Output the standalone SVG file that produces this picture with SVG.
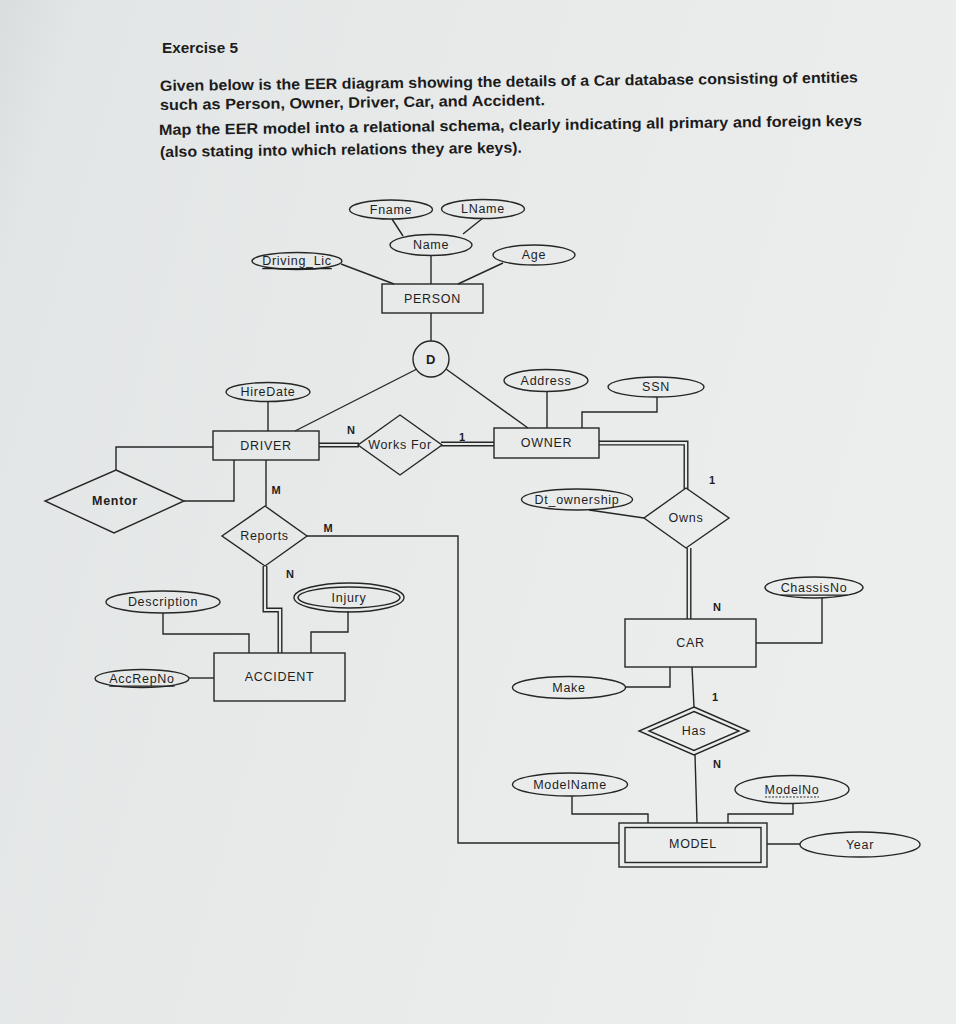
<svg xmlns="http://www.w3.org/2000/svg" width="956" height="1024" viewBox="0 0 956 1024">
<defs>
<linearGradient id="bg" x1="0" y1="0" x2="1" y2="0.3">
<stop offset="0" stop-color="#d9dddd"/>
<stop offset="0.08" stop-color="#e3e6e6"/>
<stop offset="0.6" stop-color="#e9ebeb"/>
<stop offset="1" stop-color="#eceeee"/>
</linearGradient>
<style>
.s{fill:none;stroke:#262626;stroke-width:1.4}
.b{fill:none;stroke:#262626;stroke-width:1.4}
.t{font-family:"Liberation Sans",Arial,sans-serif;font-size:12.5px;letter-spacing:0.7px;fill:#1e1e1e;text-anchor:middle;dominant-baseline:central}
.u{text-decoration:underline}
.c{font-family:"Liberation Sans",Arial,sans-serif;font-size:11px;font-weight:bold;fill:#1e1e1e;text-anchor:middle;dominant-baseline:central}
.h{font-family:"Liberation Sans",Arial,sans-serif;font-size:15px;font-weight:bold;fill:#1c1c1c}
</style>
</defs>
<rect x="0" y="0" width="956" height="1024" fill="url(#bg)"/>

<g id="heading">
<text class="h" x="162" y="53" textLength="76" lengthAdjust="spacingAndGlyphs">Exercise 5</text>
<text class="h" x="160" y="91" textLength="698" lengthAdjust="spacingAndGlyphs" transform="rotate(-0.7 160 91)">Given below is the EER diagram showing the details of a Car database consisting of entities</text>
<text class="h" x="160" y="110" textLength="385" lengthAdjust="spacingAndGlyphs" transform="rotate(-0.7 160 110)">such as Person, Owner, Driver, Car, and Accident.</text>
<text class="h" x="159" y="135" textLength="703" lengthAdjust="spacingAndGlyphs" transform="rotate(-0.75 159 135)">Map the EER model into a relational schema, clearly indicating all primary and foreign keys</text>
<text class="h" x="160" y="157" textLength="362" lengthAdjust="spacingAndGlyphs" transform="rotate(-0.7 160 157)">(also stating into which relations they are keys).</text>
</g>

<g id="connectors">
<line class="s" x1="392" y1="219" x2="403" y2="236"/>
<line class="s" x1="483" y1="218" x2="463" y2="234"/>
<line class="s" x1="431" y1="255" x2="431" y2="284"/>
<line class="s" x1="341" y1="264" x2="394" y2="284"/>
<line class="s" x1="503" y1="263" x2="458" y2="284"/>
<line class="s" x1="431" y1="313" x2="431" y2="341"/>
<line class="s" x1="417" y1="369" x2="295" y2="431"/>
<line class="s" x1="446" y1="369" x2="528" y2="428"/>
<line class="s" x1="268" y1="402" x2="268" y2="431"/>
<line class="s" x1="547" y1="391" x2="547" y2="428"/>
<polyline class="s" points="657,397 657,412 582,412 582,428"/>
<line class="s" x1="319" y1="443.2" x2="359" y2="443.2"/>
<line class="s" x1="319" y1="446.8" x2="359" y2="446.8"/>
<line class="s" x1="441" y1="442.2" x2="494" y2="442.2"/>
<line class="s" x1="441" y1="445.8" x2="494" y2="445.8"/>
<polyline class="s" points="599,441.3 687.8,441.3 687.8,489"/>
<polyline class="s" points="599,444.9 684.2,444.9 684.2,489"/>
<line class="s" x1="589" y1="510" x2="644" y2="518"/>
<line class="s" x1="687.2" y1="548" x2="687.2" y2="619"/>
<line class="s" x1="690.8" y1="548" x2="690.8" y2="619"/>
<polyline class="s" points="822,598 822,643 756,643"/>
<polyline class="s" points="626,687 670,687 670,667"/>
<line class="s" x1="692" y1="667" x2="694" y2="707"/>
<line class="s" x1="695" y1="755" x2="697" y2="823"/>
<polyline class="s" points="572,796 572,814 648,814 648,823"/>
<polyline class="s" points="793,803 793,814 728,814 728,823"/>
<line class="s" x1="767" y1="844" x2="800" y2="844"/>
<polyline class="s" points="307,536 458,536 458,843 619,843"/>
<polyline class="s" points="116,470 116,447 213,447"/>
<polyline class="s" points="184,501 234,501 234,460"/>
<line class="s" x1="266" y1="460" x2="266" y2="506"/>
<polyline class="s" points="263.2,566 263.2,611.8 278.2,611.8 278.2,653"/>
<polyline class="s" points="266.8,566 266.8,608.2 281.8,608.2 281.8,653"/>
<polyline class="s" points="348,611 348,632 311,632 311,653"/>
<polyline class="s" points="163,613 163,634 249,634 249,653"/>
<line class="s" x1="189" y1="678" x2="214" y2="678"/>
</g>

<g id="cardinalities">
<text class="c" x="351" y="430">N</text>
<text class="c" x="462" y="437">1</text>
<text class="c" x="712" y="480">1</text>
<text class="c" x="276" y="490">M</text>
<text class="c" x="328" y="528">M</text>
<text class="c" x="290" y="574">N</text>
<text class="c" x="717" y="607">N</text>
<text class="c" x="715" y="697">1</text>
<text class="c" x="717" y="764">N</text>
</g>

<g id="fname"><ellipse class="b" cx="391" cy="209.5" rx="41.5" ry="9.5"/><text class="t" x="391" y="209.5">Fname</text></g>
<g id="lname"><ellipse class="b" cx="483" cy="209" rx="41.5" ry="9.5"/><text class="t" x="483" y="209">LName</text></g>
<g id="name"><ellipse class="b" cx="431" cy="245" rx="41" ry="10.5"/><text class="t" x="431" y="245">Name</text></g>
<g id="driving_lic"><ellipse class="b" cx="297" cy="261" rx="45" ry="8.5"/><text class="t u" x="297" y="261">Driving_Lic</text></g>
<g id="age"><ellipse class="b" cx="534" cy="255" rx="41" ry="10"/><text class="t" x="534" y="255">Age</text></g>
<g id="person"><rect class="b" x="382" y="284" width="101" height="29"/><text class="t" x="432.5" y="298.5">PERSON</text></g>
<g id="disjoint"><circle class="b" cx="431" cy="359" r="18"/><text class="t" x="431" y="359" style="font-weight:bold;font-size:13px">D</text></g>
<g id="hiredate"><ellipse class="b" cx="268" cy="392" rx="42" ry="9.5"/><text class="t" x="268" y="392">HireDate</text></g>
<g id="address"><ellipse class="b" cx="546" cy="380.5" rx="42" ry="11"/><text class="t" x="546" y="380.5">Address</text></g>
<g id="ssn"><ellipse class="b" cx="656" cy="387" rx="48" ry="10"/><text class="t" x="656" y="387">SSN</text></g>
<g id="driver"><rect class="b" x="213" y="431" width="106" height="29"/><text class="t" x="266" y="445.5">DRIVER</text></g>
<g id="works_for"><polygon class="b" points="400,415 442,445 400,475 358,445"/><text class="t" x="400" y="445">Works For</text></g>
<g id="owner"><rect class="b" x="494" y="428" width="105" height="30"/><text class="t" x="546.5" y="443">OWNER</text></g>
<g id="mentor"><polygon class="b" points="116,470 184,501 114,533 45,501"/><text class="t" x="115" y="501" style="font-weight:bold">Mentor</text></g>
<g id="reports"><polygon class="b" points="265,506 307,536 265,566 222,536"/><text class="t" x="264.5" y="536">Reports</text></g>
<g id="dt_ownership"><ellipse class="b" cx="577" cy="499.5" rx="55.5" ry="10.5"/><text class="t" x="577" y="499.5">Dt_ownership</text></g>
<g id="owns"><polygon class="b" points="686,488 729,518 686,548 644,518"/><text class="t" x="686" y="518">Owns</text></g>
<g id="description"><ellipse class="b" cx="163" cy="602" rx="57" ry="11"/><text class="t" x="163" y="602">Description</text></g>
<g id="injury"><ellipse class="b" cx="349" cy="597.5" rx="55" ry="14.5"/><ellipse class="b" cx="349" cy="597.5" rx="51" ry="10.5"/><text class="t" x="349" y="597.5">Injury</text></g>
<g id="chassisno"><ellipse class="b" cx="814" cy="587.5" rx="49" ry="10.5"/><text class="t u" x="814" y="587.5">ChassisNo</text></g>
<g id="car"><rect class="b" x="625" y="619" width="131" height="48"/><text class="t" x="690.5" y="643">CAR</text></g>
<g id="accrepno"><ellipse class="b" cx="142" cy="678.5" rx="47" ry="9"/><text class="t u" x="142" y="678.5">AccRepNo</text></g>
<g id="accident"><rect class="b" x="214" y="653" width="131" height="48"/><text class="t" x="279.5" y="677">ACCIDENT</text></g>
<g id="make"><ellipse class="b" cx="569" cy="687.5" rx="56.5" ry="11"/><text class="t" x="569" y="687.5">Make</text></g>
<g id="has"><polygon class="b" points="694,707 749,731 694,755 639,731"/><polygon class="b" points="694,711.5 739,731 694,750.5 649,731"/><text class="t" x="694" y="731">Has</text></g>
<g id="modelname"><ellipse class="b" cx="570" cy="784.5" rx="57.5" ry="11.5"/><text class="t" x="570" y="784.5">ModelName</text></g>
<g id="modelno"><ellipse class="b" cx="792" cy="789.5" rx="57" ry="14"/><text class="t" x="792" y="789.5">ModelNo</text><line x1="765" y1="797" x2="819" y2="797" stroke="#262626" stroke-width="1" stroke-dasharray="2,1.5"/></g>
<g id="model"><rect class="b" x="619" y="823" width="148" height="44"/><rect class="b" x="625" y="827.5" width="136" height="35"/><text class="t" x="693" y="844">MODEL</text></g>
<g id="year"><ellipse class="b" cx="860" cy="844.5" rx="60" ry="12.5"/><text class="t" x="860" y="844.5">Year</text></g>
</svg>
